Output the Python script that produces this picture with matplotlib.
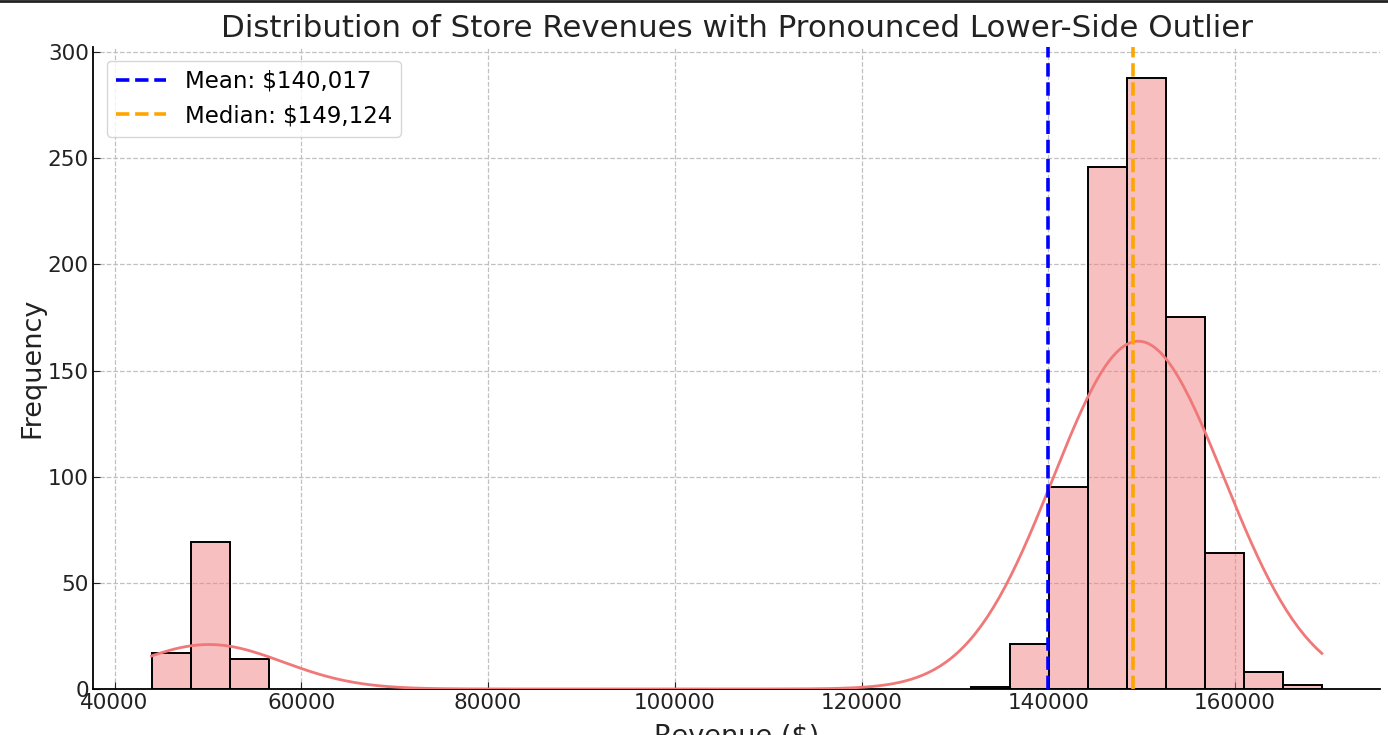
import numpy as np
import matplotlib.pyplot as plt
from matplotlib.lines import Line2D

# histogram of store revenues, 30 equal bins between the min and max revenue
rev_min = 43960
rev_max = 169300
counts = [17, 69, 14, 0, 0, 0, 0, 0, 0, 0,
          0, 0, 0, 0, 0, 0, 0, 0, 0, 0,
          0, 1, 21, 95, 246, 288, 175, 64, 8, 2]
mean_rev = 140017
median_rev = 149124

edges = np.linspace(rev_min, rev_max, len(counts) + 1)
centers = (edges[:-1] + edges[1:]) / 2
width = edges[1] - edges[0]
counts = np.array(counts)
n = counts.sum()

# gaussian kde of the binned data (scott's rule), scaled to counts like seaborn
w_mean = np.sum(centers * counts) / n
w_std = np.sqrt(np.sum(counts * (centers - w_mean)**2) / n + width**2 / 12)
bw = w_std * n ** (-1 / 5)
xs = np.linspace(rev_min, rev_max, 400)
dens = np.zeros_like(xs)
for c, k in zip(centers, counts):
    dens += k * np.exp(-0.5 * ((xs - c) / bw)**2)
dens = dens / (np.sqrt(2 * np.pi) * bw) * width

fig = plt.figure(figsize=(13.88, 7.35), dpi=100)
ax = fig.add_axes([0.067, 0.0626, 0.9275, 0.8735])

ax.bar(edges[:-1], counts, width=width, align="edge",
       color="#f08080", alpha=0.5, edgecolor="none", zorder=2)
ax.bar(edges[:-1][counts > 0], counts[counts > 0], width=width, align="edge",
       fill=False, edgecolor="black", linewidth=1.4, zorder=3)
ax.plot(xs, dens, color="#f07878", lw=2, zorder=4)

ax.axvline(mean_rev, color="blue", ls="--", lw=2.6, zorder=5,
           label=f"Mean: ${mean_rev:,}")
ax.axvline(median_rev, color="orange", ls="--", lw=2.6, zorder=5,
           label=f"Median: ${median_rev:,}")

ax.set_xticks(np.arange(40000, 160001, 20000))
ax.set_yticks(np.arange(0, 301, 50))
ax.grid(True, ls="--", color="#c0c0c0", lw=0.9, zorder=0)
ax.set_axisbelow(True)
for s in ["top", "right"]:
    ax.spines[s].set_visible(False)
ax.spines["left"].set_linewidth(1.3)
ax.spines["bottom"].set_linewidth(1.3)
ax.tick_params(direction="in", labelsize=15.5, pad=3, length=5, colors="#222222")

ax.set_title("Distribution of Store Revenues with Pronounced Lower-Side Outlier",
             fontsize=22.2, color="#222222", pad=7)
ax.set_xlabel("Revenue ($)", fontsize=19.5, color="#222222", labelpad=8)
ax.set_ylabel("Frequency", fontsize=19.5, color="#222222", labelpad=2)
ax.legend(loc="upper left", fontsize=16.5, handlelength=2.2,
          borderaxespad=0.6)

fig.add_artist(Line2D([0, 1], [0.999, 0.999], transform=fig.transFigure,
                      color="#222222", lw=2))

fig.savefig("out.png", dpi=100)
